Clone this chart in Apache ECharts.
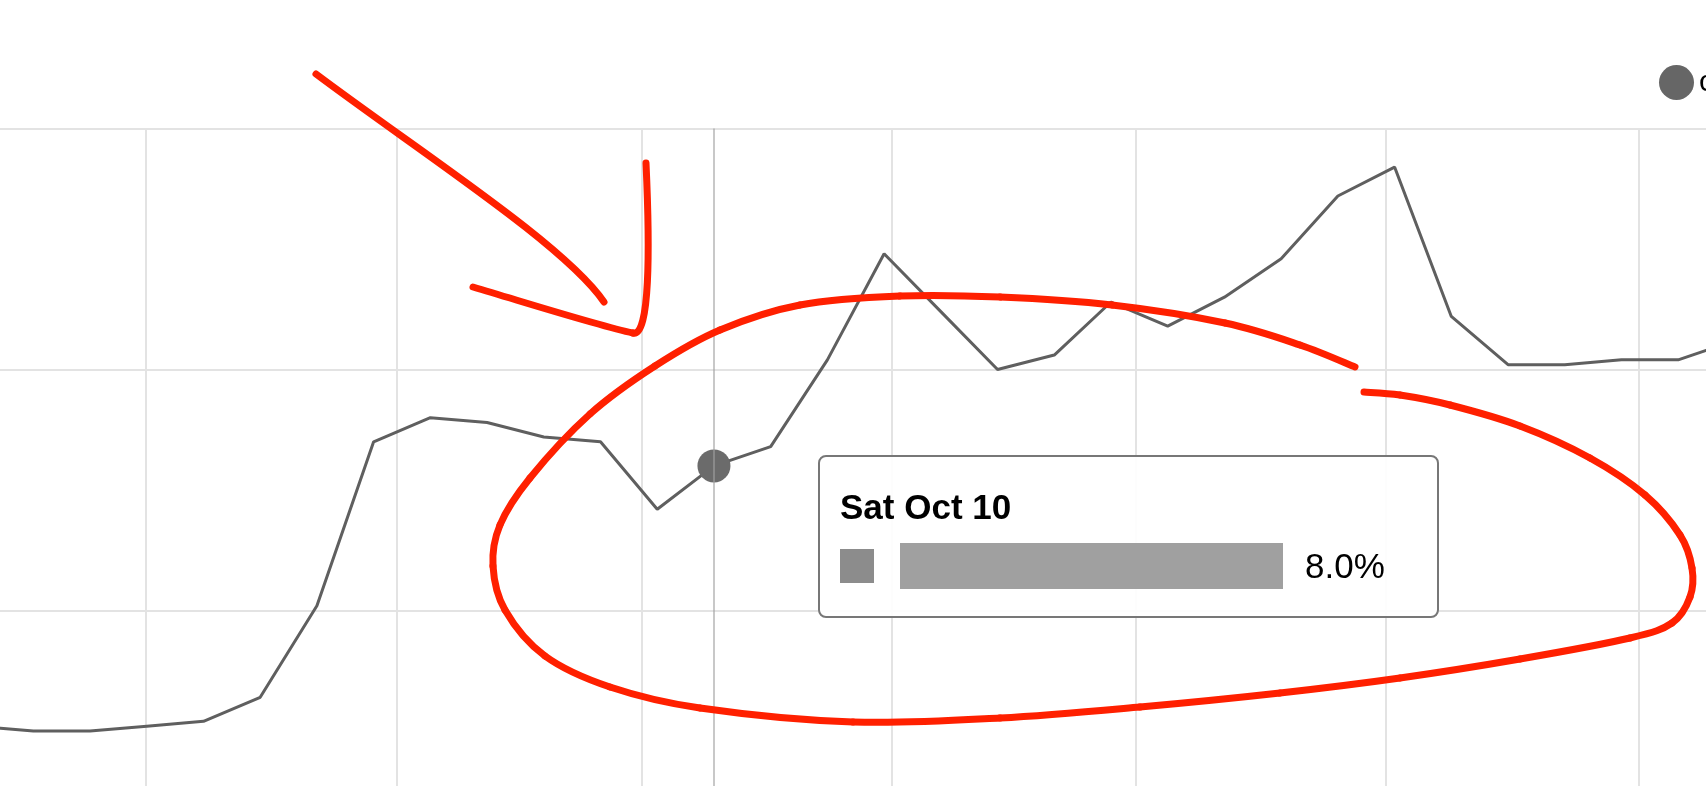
<!DOCTYPE html>
<html>
<head>
<meta charset="utf-8">
<script src="https://cdn.jsdelivr.net/npm/echarts@6/dist/echarts.min.js"></script>
<style>
html,body{margin:0;padding:0;width:1706px;height:786px;overflow:hidden;background:#fff;}
#chart{position:absolute;left:-100px;top:0;width:2100px;height:900px;}
</style>
</head>
<body>
<div id="chart"></div>
<script>
// ---- data ----
const categories = ['Sun Sep 27','Mon Sep 28','Tue Sep 29','Wed Sep 30','Thu Oct 1','Fri Oct 2','Sat Oct 3',
  'Sun Oct 4','Mon Oct 5','Tue Oct 6','Wed Oct 7','Thu Oct 8','Fri Oct 9','Sat Oct 10',
  'Sun Oct 11','Mon Oct 12','Tue Oct 13','Wed Oct 14','Thu Oct 15','Fri Oct 16','Sat Oct 17',
  'Sun Oct 18','Mon Oct 19','Tue Oct 20','Wed Oct 21','Thu Oct 22','Fri Oct 23','Sat Oct 24',
  'Sun Oct 25','Mon Oct 26','Tue Oct 27','Wed Oct 28'];
const values = [2.6, 2.5, 2.5, 2.6, 2.7, 3.2, 5.1,
  8.5, 9.0, 8.9, 8.6, 8.5, 7.1, 8.0,
  8.4, 10.2, 12.4, 11.2, 10.0, 10.3, 11.4,
  10.9, 11.5, 12.3, 13.6, 14.2, 11.1, 10.1,
  10.1, 10.2, 10.2, 10.6];
const seriesName = 'conversion rate';
const hoverIndex = 13;
const yTickValues = [0, 5, 10, 15];
const xGridTicks = [2.98, 7.41, 11.73, 16.14, 20.44, 24.85, 29.30];

// ---- annotation strokes (viewport pixel coords) ----
const OX = 100;
const loopPts = [[1355,367],[1300,345],[1225,323],[1112,305],[1000,297],[900,296],[800,305],
  [720,330],[655,366],[590,414],[530,478],[500,525],[493,566],[505,610],[545,656],[610,687],
  [700,708],[853,722],[1000,718],[1140,707],[1280,693],[1400,678],[1520,659],[1630,638],
  [1672,623],[1690,597],[1692,568],[1680,535],[1645,495],[1590,458],[1520,426],[1450,405],
  [1400,395],[1364,392]];
const red = {stroke:'#ff2000', lineWidth:7, lineCap:'round', lineJoin:'round', fill:'none'};

// Catmull-Rom through the loop points -> cubic bezier segments
function loopSegments(pts) {
  const segs = [];
  for (let i = 0; i < pts.length - 1; i++) {
    const p0 = pts[Math.max(i - 1, 0)], p1 = pts[i], p2 = pts[i + 1], p3 = pts[Math.min(i + 2, pts.length - 1)];
    segs.push({
      type: 'bezierCurve', z: 100, style: red,
      shape: {
        x1: p1[0] + OX, y1: p1[1],
        cpx1: p1[0] + (p2[0] - p0[0]) / 6 + OX, cpy1: p1[1] + (p2[1] - p0[1]) / 6,
        cpx2: p2[0] - (p3[0] - p1[0]) / 6 + OX, cpy2: p2[1] - (p3[1] - p1[1]) / 6,
        x2: p2[0] + OX, y2: p2[1]
      }
    });
  }
  return segs;
}

const chart = echarts.init(document.getElementById('chart'), null, {renderer:'canvas'});
const gridColor = '#e3e3e3';

chart.setOption({
  animation: false,
  legend: {
    data: [seriesName],
    left: 1754, top: 60,
    icon: 'circle', itemWidth: 35, itemHeight: 35,
    textStyle: {fontSize: 30, color: '#000', fontFamily: 'Liberation Sans, Arial, sans-serif'}
  },
  grid: {left: 76.6, right: 265.1, top: 128.5, bottom: 48.5, containLabel: false, outerBoundsMode: 'none'},
  tooltip: {
    trigger: 'axis',
    triggerOn: 'none',
    alwaysShowContent: true,
    transitionDuration: 0,
    position: [918, 455],
    padding: 0,
    borderWidth: 2,
    borderColor: '#777',
    borderRadius: 8,
    backgroundColor: 'rgba(255,255,255,0.9)',
    extraCssText: 'box-shadow:none;',
    axisPointer: {type: 'line', lineStyle: {color: 'rgba(161,161,161,0.58)', width: 2, type: 'solid'}},
    formatter: function (params) {
      const p = params.find(q => q.seriesIndex === 0) || params[0];
      const v = values[p.dataIndex];
      const barW = Math.round(v * 47.9);
      return '<div style="width:617px;height:159px;box-sizing:border-box;padding:30px 0 0 20px;' +
        'font-family:\'Liberation Sans\',Arial,sans-serif;color:#000;white-space:nowrap;">' +
        '<div style="font-weight:700;font-size:35px;line-height:40px;">' + categories[p.dataIndex] + '</div>' +
        '<div style="display:flex;align-items:center;margin-top:16px;height:46px;">' +
        '<span style="display:inline-block;width:34px;height:34px;background:#8c8c8c;"></span>' +
        '<span style="display:inline-block;width:' + barW + 'px;height:46px;background:#a0a0a0;margin-left:26px;"></span>' +
        '<span style="font-size:35px;line-height:46px;margin-left:22px;">' + v.toFixed(1) + '%</span>' +
        '</div></div>';
    }
  },
  xAxis: [
    {type: 'category', data: categories, boundaryGap: false,
     axisLine: {show: false}, axisTick: {show: false}, axisLabel: {show: false}, splitLine: {show: false}},
    {type: 'value', min: 0, max: categories.length - 1, position: 'bottom',
     axisPointer: {show: false},
     axisLine: {show: false}, axisLabel: {show: false},
     axisTick: {show: false, customValues: xGridTicks},
     splitLine: {show: true, lineStyle: {color: gridColor, width: 2}}}
  ],
  yAxis: {
    type: 'value', min: yTickValues[0], max: yTickValues[yTickValues.length - 1], interval: yTickValues[1] - yTickValues[0],
    axisLine: {show: false}, axisTick: {show: false}, axisLabel: {show: false, formatter: '{value}%'},
    splitLine: {show: true, lineStyle: {color: gridColor, width: 2}}
  },
  series: [
    {name: seriesName, type: 'line', data: values, symbol: 'none',
     itemStyle: {color: '#666'}, lineStyle: {color: '#5f5f5f', width: 3},
     emphasis: {disabled: true}, z: 3},
    {name: 'hover', type: 'scatter', data: [[categories[hoverIndex], values[hoverIndex]]],
     symbol: 'circle', symbolSize: 33, itemStyle: {color: '#6b6b6b', opacity: 1},
     silent: true, emphasis: {disabled: true}, z: 4}
  ],
  graphic: [
    {type: 'bezierCurve', z: 100, shape: {x1: 316+OX, y1: 74, cpx1: 420+OX, cpy1: 152, cpx2: 565+OX, cpy2: 245, x2: 604+OX, y2: 302}, style: red},
    {type: 'bezierCurve', z: 100, shape: {x1: 473+OX, y1: 287, cpx1: 540+OX, cpy1: 307, cpx2: 600+OX, cpy2: 326, x2: 633+OX, y2: 333}, style: red},
    {type: 'bezierCurve', z: 100, shape: {x1: 633+OX, y1: 333, cpx1: 650+OX, cpy1: 337, cpx2: 650+OX, cpy2: 250, x2: 646+OX, y2: 163}, style: red}
  ].concat(loopSegments(loopPts))
});

chart.dispatchAction({type: 'showTip', seriesIndex: 0, dataIndex: hoverIndex});
</script>
</body>
</html>
